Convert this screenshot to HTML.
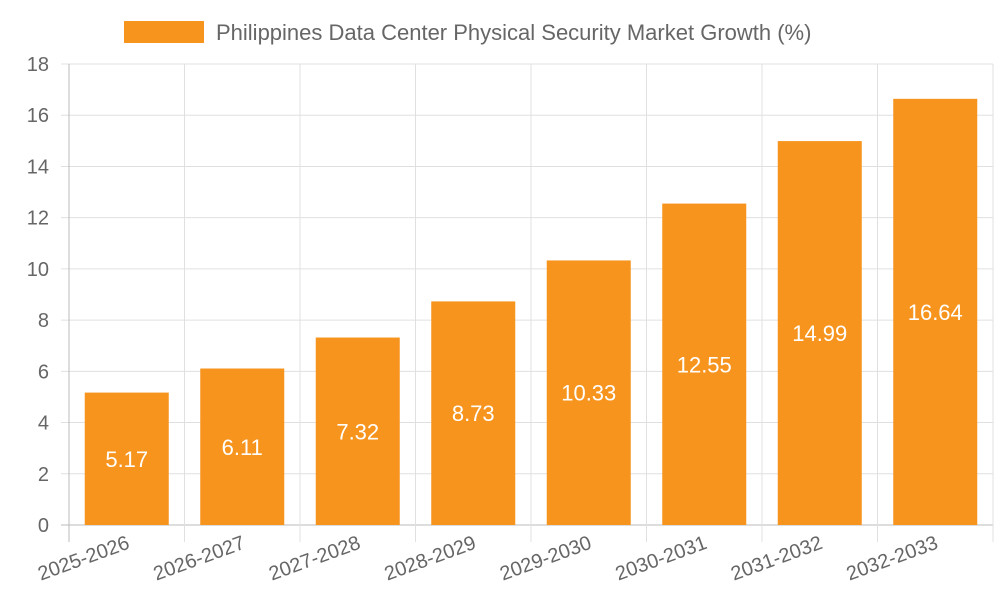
<!DOCTYPE html>
<html><head><meta charset="utf-8"><style>
body{margin:0;background:#fff;}
svg{display:block;font-family:"Liberation Sans",sans-serif;}
</style></head><body>
<svg id="chart" width="1000" height="600">
<rect x="124" y="21" width="80" height="22" fill="#f7941d"></rect>
<text x="216" y="40" font-size="22" fill="#666">Philippines Data Center Physical Security Market Growth (%)</text>
<g id="grid"></g><g id="bars"></g><g id="labels"></g>
</svg>
<script>
const categories=["2025-2026","2026-2027","2027-2028","2028-2029","2029-2030","2030-2031","2031-2032","2032-2033"];
const values=[5.17,6.11,7.32,8.73,10.33,12.55,14.99,16.64];
const yTicks=[0,2,4,6,8,10,12,14,16,18];
const L=69,R=993,T=64,B=525,yMax=18;
const y=v=>B-(v/yMax)*(B-T);
const bw=(R-L)/categories.length;
const x=i=>L+i*bw;
const ns="http://www.w3.org/2000/svg";
function mk(tag,attrs,parent,text){const e=document.createElementNS(ns,tag);for(const k in attrs)e.setAttribute(k,attrs[k]);if(text!==undefined)e.textContent=text;document.getElementById(parent).appendChild(e);return e;}
yTicks.forEach(t=>{
 const l=mk('line',{x1:L-8,x2:R,y1:y(t),y2:y(t),stroke:t===0?'#bbb':'#e0e0e0','stroke-width':1},'grid');
 
 
 const tx=mk('text',{x:L-20,y:y(t)+7,'text-anchor':'end','font-size':20,fill:'#666'},'labels',t);
 
 
});
for(let i=0;i<=categories.length;i++){
 const l=mk('line',{x1:x(i),x2:x(i),y1:T,y2:B+17,stroke:i===0?'#bbb':'#e0e0e0','stroke-width':1},'grid');
 
 
}
categories.forEach((c,i)=>{
 const cx=x(i)+bw/2;
 const r=mk('rect',{x:cx-42,y:y(values[i]),width:84,height:B-y(values[i]),fill:'#f7941d'},'bars');
 
 
 const v=mk('text',{x:cx,y:(y(values[i])+B)/2+8,'text-anchor':'middle','font-size':22,fill:'#fff'},'labels',values[i].toFixed(2));
 
 
 const lx=cx+4,ly=548;
 const t=mk('text',{x:lx,y:ly,'text-anchor':'end','font-size':20,fill:'#666',transform:`rotate(-20 ${lx} ${ly})`},'labels',c);
 
 
});
</script>
</body></html>
